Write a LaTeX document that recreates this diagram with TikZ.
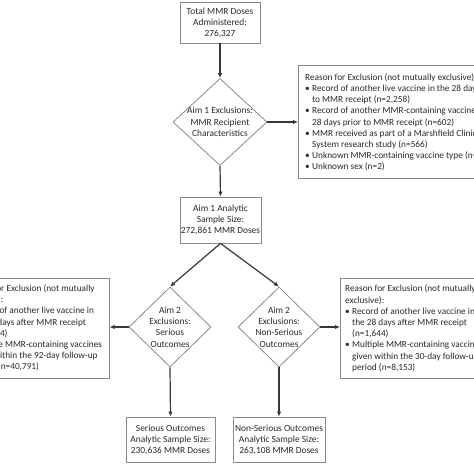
\documentclass[tikz,border=0pt]{standalone}
\usepackage{fontspec}
\setmainfont{Carlito}
\usetikzlibrary{shapes.geometric,arrows.meta}
\definecolor{boxgray}{HTML}{8A8A8A}
\definecolor{arrgray}{HTML}{383838}
\definecolor{txt}{HTML}{2A2A2A}
\newcommand\bul{\makebox[7pt][l]{\textbullet}}
\newcommand\ind{\hspace*{7pt}}
\tikzset{
  box/.style={draw=boxgray, line width=0.8pt, fill=white, inner sep=0pt, align=center, text=txt,
    font=\fontsize{9.4}{11}\selectfont},
  exbox/.style={draw=boxgray, line width=0.8pt, fill=white, inner sep=0pt},
  extext/.style={inner sep=0pt, align=left, text=txt, font=\fontsize{9.3}{11.2}\selectfont, anchor=west},
  dia/.style={diamond, draw=boxgray, line width=0.8pt, fill=white, inner sep=0pt},
  dtext/.style={inner sep=0pt, align=center, text=txt, font=\fontsize{9.4}{11.3}\selectfont},
  arr/.style={draw=arrgray, line width=1.2pt, -{Latex[length=5pt,width=4.5pt]}}
}
\begin{document}
\begin{tikzpicture}[x=1pt,y=-1pt]
\useasboundingbox (0,0) rectangle (474,474);
\clip (0,0) rectangle (474,474);
\fill[white] (0,0) rectangle (474,474);

% top box
\node[box, minimum width=80pt, minimum height=41pt] (b1) at (220,22.5)
  {Total MMR Doses\\Administered:\\276,327};
% diamond 1
\node[dia, minimum width=94pt, minimum height=87pt] (d1) at (220,122) {};
\node[dtext] (d1t) at (d1) {Aim 1 Exclusions:\\MMR Recipient\\Characteristics};
% right exclusion box 1
\node[exbox, minimum width=220pt, minimum height=113pt, anchor=north west] (r1) at (298,65) {};
\node[extext] (r1t) at ([xshift=7pt,yshift=-0.5pt]r1.west)
  {Reason for Exclusion (not mutually exclusive)\\
   \bul Record of another live vaccine in the 28 days prior\\
   \ind to MMR receipt (n=2,258)\\
   \bul Record of another MMR-containing vaccine in the\\
   \ind 28 days prior to MMR receipt (n=602)\\
   \bul MMR received as part of a Marshfield Clinic Health\\
   \ind System research study (n=566)\\
   \bul Unknown MMR-containing vaccine type (n=38)\\
   \bul Unknown sex (n=2)};
% box 2
\node[box, minimum width=81pt, minimum height=46pt] (b2) at (220.5,220)
  {Aim 1 Analytic\\Sample Size:\\272,861 MMR Doses};
% diamonds 2 and 3
\node[dia, minimum width=82pt, minimum height=80pt] (d2) at (170,327) {};
\node[dtext] (d2t) at (d2) {Aim 2\\Exclusions:\\Serious\\Outcomes};
\node[dia, minimum width=82pt, minimum height=80pt] (d3) at (279,327) {};
\node[dtext] (d3t) at (d3) {Aim 2\\Exclusions:\\Non-Serious\\Outcomes};
% left exclusion box
\node[exbox, minimum width=150pt, minimum height=100pt, anchor=north east] (l1) at (109.5,278) {};
\node[extext] (l1t) at ([xshift=-36pt]0,328)
  {Reason for Exclusion (not mutually\\
   exclusive):\\
   \bul Record of another live vaccine in\\
   \ind the 28 days after MMR receipt\\
   \ind (n=1,584)\\
   \bul Multiple MMR-containing vaccines\\
   \ind given within the 92-day follow-up\\
   \ind period (n=40,791)};
% right exclusion box 2
\node[exbox, minimum width=170pt, minimum height=100pt, anchor=north west] (r2) at (340,278) {};
\node[extext] (r2t) at ([xshift=5pt]r2.west)
  {Reason for Exclusion (not mutually\\
   exclusive):\\
   \bul Record of another live vaccine in\\
   \ind the 28 days after MMR receipt\\
   \ind (n=1,644)\\
   \bul Multiple MMR-containing vaccines\\
   \ind given within the 30-day follow-up\\
   \ind period (n=8,153)};
% bottom boxes
\node[box, minimum width=89pt, minimum height=45pt] (b4) at (170.5,439.5)
  {Serious Outcomes\\Analytic Sample Size:\\230,636 MMR Doses};
\node[box, minimum width=92pt, minimum height=45pt] (b5) at (279,439.5)
  {Non-Serious Outcomes\\Analytic Sample Size:\\263,108 MMR Doses};

% connectors
\draw[arr] (b1.south) -- (d1.north);
\draw[arr] (d1.south) -- (b2.north);
\draw[arr] (d1.east) -- (d1.east -| r1.west);
\draw[arr] (b2.south) -- (d2.north);
\draw[arr] (b2.south) -- (d3.north);
\draw[arr] (d2.west) -- (d2.west -| l1.east);
\draw[arr] (d3.east) -- (d3.east -| r2.west);
\draw[arr] (d2.south) -- (b4.north);
\draw[arr] (d3.south) -- (b5.north);
\end{tikzpicture}
\end{document}
